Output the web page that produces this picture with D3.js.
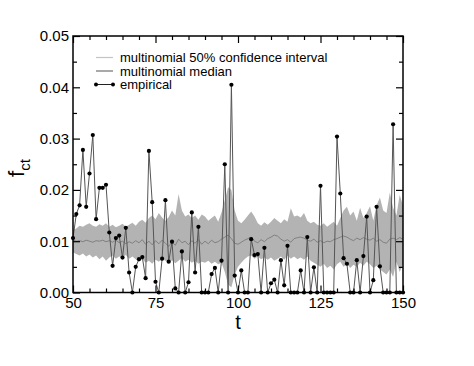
<!DOCTYPE html>
<html><head><meta charset="utf-8">
<script src="https://cdn.jsdelivr.net/npm/d3@7"></script>
<style>body{margin:0;background:#fff}svg{display:block;font-family:"Liberation Sans",Arial,sans-serif}</style>
</head><body><svg id="c" width="474" height="366"></svg>
<script>
const tStart = 50;
const empirical = [0.0106,0.0153,0.0170,0.0278,0.0167,0.0232,0.0307,0.0143,0.0204,0.0204,
0.0210,0.0117,0.0052,0.0106,0.0111,0.0068,0.0126,0.0039,0,0.0050,
0.0065,0.0069,0.0028,0.0276,0.0176,0.0021,0,0.0066,0.0180,0.0060,
0.0099,0.0008,0,0.0080,0,0.0020,0.0156,0.0039,0.0128,0,
0,0,0.0036,0.0048,0,0.0062,0.0250,0,0.0405,0.0033,
0,0.0043,0,0,0.0104,0.0073,0.0075,0,0.0087,0,
0.0018,0.0025,0,0.0063,0.0014,0.0091,0,0,0,0.0043,
0,0.0108,0,0.0049,0,0.0208,0,0,0,0,
0.0304,0.0193,0.0067,0.0056,0,0,0.0063,0,0.0071,0.0148,
0,0.0024,0.0167,0.0051,0,0,0,0.0328,0,0,
0];
const upper = [0.0122,0.0125,0.0130,0.0128,0.0132,0.0135,0.0130,0.0128,0.0133,0.0130,
0.0135,0.0128,0.0132,0.0127,0.0130,0.0134,0.0128,0.0132,0.0136,0.0130,
0.0138,0.0142,0.0136,0.0145,0.0150,0.0143,0.0155,0.0146,0.0140,0.0147,
0.0160,0.0150,0.0192,0.0160,0.0148,0.0152,0.0145,0.0150,0.0142,0.0152,
0.0148,0.0140,0.0145,0.0150,0.0138,0.0156,0.0180,0.0205,0.0200,0.0160,
0.0140,0.0135,0.0142,0.0150,0.0158,0.0148,0.0135,0.0130,0.0137,0.0132,
0.0138,0.0145,0.0140,0.0135,0.0143,0.0138,0.0164,0.0148,0.0150,0.0146,
0.0155,0.0140,0.0135,0.0138,0.0132,0.0130,0.0135,0.0128,0.0133,0.0138,
0.0130,0.0145,0.0160,0.0167,0.0150,0.0158,0.0140,0.0165,0.0145,0.0155,
0.0168,0.0140,0.0170,0.0185,0.0160,0.0155,0.0195,0.0165,0.0150,0.0190,
0.0170];
const lower = [0.0078,0.0075,0.0072,0.0076,0.0070,0.0074,0.0068,0.0072,0.0065,0.0070,
0.0062,0.0068,0.0072,0.0066,0.0070,0.0068,0.0073,0.0066,0.0070,0.0065,
0.0060,0.0066,0.0058,0.0062,0.0056,0.0064,0.0060,0.0066,0.0062,0.0058,
0.0063,0.0057,0.0062,0.0068,0.0060,0.0064,0.0058,0.0062,0.0056,0.0060,
0.0058,0.0062,0.0056,0.0060,0.0055,0.0058,0.0040,0.0015,0.0010,0.0035,
0.0050,0.0058,0.0065,0.0070,0.0072,0.0066,0.0070,0.0065,0.0068,0.0064,
0.0068,0.0062,0.0066,0.0070,0.0064,0.0072,0.0066,0.0070,0.0065,0.0068,
0.0064,0.0070,0.0062,0.0058,0.0054,0.0050,0.0056,0.0048,0.0052,0.0045,
0.0055,0.0060,0.0050,0.0056,0.0048,0.0054,0.0050,0.0058,0.0052,0.0060,
0.0055,0.0048,0.0052,0.0045,0.0040,0.0035,0.0045,0.0030,0.0060,0.0040,
0.0055];
const median = [0.0102,0.0100,0.0101,0.0099,0.0102,0.0100,0.0098,0.0101,0.0100,0.0102,
0.0099,0.0101,0.0098,0.0102,0.0097,0.0100,0.0095,0.0099,0.0096,0.0101,
0.0097,0.0103,0.0094,0.0100,0.0093,0.0101,0.0095,0.0102,0.0096,0.0090,
0.0098,0.0092,0.0104,0.0097,0.0100,0.0093,0.0101,0.0096,0.0103,0.0094,
0.0100,0.0095,0.0102,0.0097,0.0099,0.0104,0.0108,0.0112,0.0105,0.0096,
0.0094,0.0098,0.0102,0.0105,0.0108,0.0100,0.0097,0.0103,0.0099,0.0105,
0.0108,0.0112,0.0110,0.0104,0.0100,0.0103,0.0098,0.0105,0.0107,0.0108,
0.0106,0.0102,0.0100,0.0104,0.0098,0.0101,0.0097,0.0100,0.0099,0.0103,
0.0105,0.0108,0.0110,0.0108,0.0104,0.0101,0.0106,0.0103,0.0107,0.0104,
0.0102,0.0106,0.0100,0.0103,0.0098,0.0096,0.0104,0.0106,0.0103,0.0107,
0.0104];
const xTicks = [50,75,100,125,150];
const yTicks = [0,0.01,0.02,0.03,0.04,0.05];
const legendLabels = ["multinomial 50% confidence interval","multinomial median","empirical"];

const svg = d3.select("#c");
const L=73,R=403,T=36,B=292.5;
const x = d3.scaleLinear().domain([50,150]).range([L,R]);
const y = d3.scaleLinear().domain([0,0.05]).range([B,T]);
const ts = empirical.map((_,i)=>tStart+i);

const plot = svg.append("g");
plot.append("path").datum(ts.map((t,i)=>({t,lo:lower[i],hi:upper[i]})))
  .attr("fill","#b3b3b3")
  .attr("d",d3.area().x(d=>x(d.t)).y0(d=>y(d.lo)).y1(d=>y(d.hi)));
plot.append("path").datum(ts.map((t,i)=>({t,v:median[i]})))
  .attr("fill","none").attr("stroke","#808080").attr("stroke-width",1)
  .attr("d",d3.line().x(d=>x(d.t)).y(d=>y(d.v)));
const emp = ts.map((t,i)=>({t,v:empirical[i]}));
plot.append("path").datum(emp)
  .attr("fill","none").attr("stroke","#555").attr("stroke-width",1)
  .attr("d",d3.line().x(d=>x(d.t)).y(d=>y(d.v)));
plot.selectAll("circle.e").data(emp).enter().append("circle")
  .attr("cx",d=>x(d.t)).attr("cy",d=>y(d.v)).attr("r",2.1).attr("fill","#000");

function axes(){
  const g = svg.append("g");
  const minorX = d3.range(55,150,5).filter(v=>v%25);
  const minorY = [0.005,0.015,0.025,0.035,0.045];
  const xb = d3.axisBottom(x).tickValues(xTicks).tickSize(-7).tickPadding(5).tickFormat(d3.format("d"));
  const xbm = d3.axisBottom(x).tickValues(minorX).tickSize(-4).tickFormat("");
  const xt = d3.axisTop(x).tickValues(xTicks).tickSize(-7).tickFormat("");
  const xtm = d3.axisTop(x).tickValues(minorX).tickSize(-4).tickFormat("");
  const yl = d3.axisLeft(y).tickValues(yTicks).tickSize(-7).tickPadding(4).tickFormat(d3.format(".2f"));
  const ylm = d3.axisLeft(y).tickValues(minorY).tickSize(-4).tickFormat("");
  const yr = d3.axisRight(y).tickValues(yTicks).tickSize(-7).tickFormat("");
  const yrm = d3.axisRight(y).tickValues(minorY).tickSize(-4).tickFormat("");
  [[xb,`translate(0,${B})`],[xbm,`translate(0,${B})`],[xt,`translate(0,${T})`],[xtm,`translate(0,${T})`],
   [yl,`translate(${L},0)`],[ylm,`translate(${L},0)`],[yr,`translate(${R},0)`],[yrm,`translate(${R},0)`]].forEach(([a,tr])=>{
    const s = g.append("g").attr("transform",tr).call(a);
    s.select(".domain").remove();
    s.selectAll(".tick line").attr("stroke","#000").attr("stroke-width",1.2);
    s.selectAll("text").attr("font-size",15).attr("fill","#000").attr("font-family","Liberation Sans, Arial, sans-serif");
  });
  g.append("rect").attr("x",L).attr("y",T).attr("width",R-L).attr("height",B-T)
    .attr("fill","none").attr("stroke","#000").attr("stroke-width",1.5);
}
axes();

svg.append("text").attr("x",x(100)).attr("y",329).attr("text-anchor","middle")
  .attr("font-size",20).text("t");
const yl = svg.append("text").attr("transform","translate(24,168) rotate(-90)").attr("text-anchor","middle").attr("font-size",22);
yl.append("tspan").text("f");
yl.append("tspan").attr("font-size",15).attr("dy",6).text("ct");

const lg = svg.append("g");
const rows=[57.5,71,84.5];
const styles=[{c:"#c4c4c4",w:1.2,dot:false},{c:"#8c8c8c",w:1.5,dot:false},{c:"#222",w:1,dot:true}];
legendLabels.forEach((lab,i)=>{
  lg.append("line").attr("x1",96).attr("x2",113).attr("y1",rows[i]).attr("y2",rows[i])
    .attr("stroke",styles[i].c).attr("stroke-width",styles[i].w);
  if(styles[i].dot){
    lg.append("circle").attr("cx",96).attr("cy",rows[i]).attr("r",2).attr("fill","#000");
    lg.append("circle").attr("cx",113).attr("cy",rows[i]).attr("r",2).attr("fill","#000");
  }
  lg.append("text").attr("x",120).attr("y",rows[i]+4.5).attr("font-size",13).text(lab);
});
</script></body></html>
